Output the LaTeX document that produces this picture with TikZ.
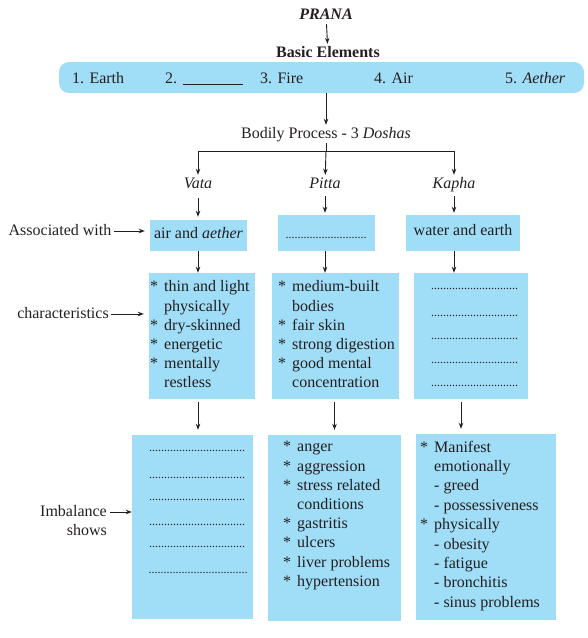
\documentclass[tikz,border=0pt]{standalone}
\usepackage{fontspec}
\setmainfont{Liberation Serif}
\usetikzlibrary{arrows.meta,calc}
\definecolor{boxblue}{RGB}{160,221,247}
\definecolor{inkgray}{RGB}{35,31,32}
\newcommand{\bul}{\makebox[14pt][l]{*}}
\newcommand{\indt}{\makebox[14pt]{}}
\newcommand{\dotrow}[1]{\makebox[#1pt]{\fontsize{12}{12}\selectfont\leaders\hbox to 3pt{\hss.\hss}\hfill}}
\tikzset{
  label text/.style={
    inner sep=2pt, text height=11pt, text depth=3pt,
    font=\fontsize{16}{19.2}\selectfont, text=inkgray
  },
  list text/.style={
    inner sep=0pt, align=left, anchor=north west,
    font=\fontsize{16}{19.2}\selectfont, text=inkgray
  },
  dot text/.style={inner sep=0pt, anchor=base, text=inkgray},
  dosha box/.style={rectangle, fill=boxblue, inner sep=0pt},
  flow arrow/.style={-{Stealth[length=6pt,width=4.5pt]}, line width=0.9pt, inkgray},
  flow line/.style={line width=0.9pt, inkgray}
}

\begin{document}
\begin{tikzpicture}[x=1pt,y=-1pt]
    \useasboundingbox (0,0) rectangle (588,638);

    \node[label text] (prana) at (326,15) {\textbf{\textit{PRANA}}};
    \node[label text] (basic) at (328,53) {\textbf{Basic Elements}};
    \node[dosha box, rounded corners=10pt, minimum width=525pt, minimum height=31pt] (elements) at (321.5,77.5) {};
    \node[label text, anchor=base west] (earth) at (70,83.3) {1. Earth};
    \node[label text, anchor=base west] (blank) at (163,83.3) {2. \rule[-1pt]{60pt}{0.7pt}};
    \node[label text, anchor=base west] (fire) at (258,83.3) {3. Fire};
    \node[label text, anchor=base west] (air) at (372,83.3) {4. Air};
    \node[label text, anchor=base west] (aether) at (503,83.3) {5. \textit{Aether}};

    \node[label text] (bodily) at (326,134) {Bodily Process - 3 \textit{Doshas}};
    \coordinate (split) at (326,151);
    \node[label text] (vata) at (198,184) {\textit{Vata}};
    \node[label text] (pitta) at (325,184) {\textit{Pitta}};
    \node[label text] (kapha) at (454,184) {\textit{Kapha}};

    \node[dosha box, minimum width=97pt, minimum height=31pt, label text, inner sep=0pt, text depth=5pt, text height=10pt] (vataassoc) at (198.5,235.5) {air and \textit{aether}};
    \node[dosha box, minimum width=97pt, minimum height=36pt] (pittaassoc) at (326.5,233) {};
    \node[dot text] (pittadots) at (327,238) {\dotrow{83}};
    \node[dosha box, minimum width=114pt, minimum height=36pt, label text, inner sep=0pt, text depth=5pt, text height=10pt] (kaphaassoc) at (463,233) {water and earth};

    \node[dosha box, minimum width=106pt, minimum height=126pt] (vatachar) at (202,336) {};
    \node[dosha box, minimum width=127pt, minimum height=126pt] (pittachar) at (335.5,336) {};
    \node[dosha box, minimum width=114pt, minimum height=126pt] (kaphachar) at (471,336) {};
    \node[list text] (vatalist) at (150,278.3) {\strut\bul thin and light\\ \indt physically\\ \bul dry-skinned\\ \bul energetic\\ \bul mentally\\ \indt restless};
    \node[list text] (pittalist) at (278,278.3) {\strut\bul medium-built\\ \indt bodies\\ \bul fair skin\\ \bul strong digestion\\ \bul good mental\\ \indt concentration};
    \foreach \y [count=\i] in {288,315,338,362,385}
      \node[dot text] (kaphadots\i) at (475.5,\y+1) {\dotrow{89}};

    \node[dosha box, minimum width=121pt, minimum height=184pt] (vataimb) at (192.5,527) {};
    \node[dosha box, minimum width=133pt, minimum height=186pt] (pittaimb) at (334.5,528) {};
    \node[dosha box, minimum width=140pt, minimum height=186pt] (kaphaimb) at (486,527) {};
    \foreach \y [count=\i] in {450,477,499,524,546}
      \node[dot text] (vatadots\i) at (197,\y+1) {\dotrow{96}};
    \node[dot text] (vatadots6) at (198,573) {\dotrow{99}};
    \node[list text] (pittaills) at (283,438.3) {\strut\bul anger\\ \bul aggression\\ \bul stress related\\ \indt conditions\\ \bul gastritis\\ \bul ulcers\\ \bul liver problems\\ \bul hypertension};
    \node[list text, font=\fontsize{16}{19.4}\selectfont] (kaphaills) at (420,438.3) {\strut\bul Manifest\\ \indt emotionally\\ \indt - greed\\ \indt - possessiveness\\ \bul physically\\ \indt - obesity\\ \indt - fatigue\\ \indt - bronchitis\\ \indt - sinus problems};

    \node[label text] (assoclabel) at (60,231) {Associated with};
    \node[label text] (charlabel) at (63,314) {characteristics};
    \node[list text, anchor=north east, align=right] (imblabel) at (107,502.6) {\strut Imbalance\\ shows};
    \coordinate (imbtail) at ($(imblabel.north east)+(3,9.4)$);

    \draw[flow arrow] (prana) -- (basic);
    \draw[flow arrow] (elements.south -| bodily) -- (bodily);
    \draw[flow line] (bodily.south) -- (split);
    \draw[flow line] (split -| vata) -- (split -| kapha);
    \draw[flow arrow] (split -| vata) -- (vata);
    \draw[flow arrow] (split) -- (pitta);
    \draw[flow arrow] (split -| kapha) -- (kapha);

    \draw[flow arrow, shorten <=5pt, shorten >=3pt] (vata) -- (vata |- vataassoc.north);
    \draw[flow arrow, shorten <=3pt, shorten >=2pt] (pitta) -- (pitta |- pittaassoc.north);
    \draw[flow arrow, shorten <=3pt, shorten >=2pt] (kapha) -- (kapha |- kaphaassoc.north);

    \draw[flow arrow] (vataassoc.south -| vata) -- (vatachar.north -| vata);
    \draw[flow arrow] (pittaassoc.south -| pitta) -- (pittachar.north -| pitta);
    \draw[flow arrow] (kaphaassoc.south -| kapha) -- (kaphachar.north -| kapha);

    \draw[flow arrow, shorten <=3pt, shorten >=5pt] (vatachar.south -| vata) -- (vataimb.north -| vata);
    \draw[flow arrow, shorten <=3pt, shorten >=5pt] (pittachar.south -| pittaimb) -- (pittaimb.north -| pittaimb);
    \draw[flow arrow, shorten <=3pt, shorten >=5pt] ($(kaphachar.south)+(-10,0)$) -- ($(kaphaimb.north)+(-25,0)$);

    \draw[flow arrow, shorten >=5pt] (assoclabel.east) -- (assoclabel.east -| vataassoc.west);
    \draw[flow arrow, shorten >=5pt] (charlabel.east) -- (charlabel.east -| vatachar.west);
    \draw[flow arrow] (imbtail) -- (imbtail -| vataimb.west);
  \end{tikzpicture}
\end{document}
